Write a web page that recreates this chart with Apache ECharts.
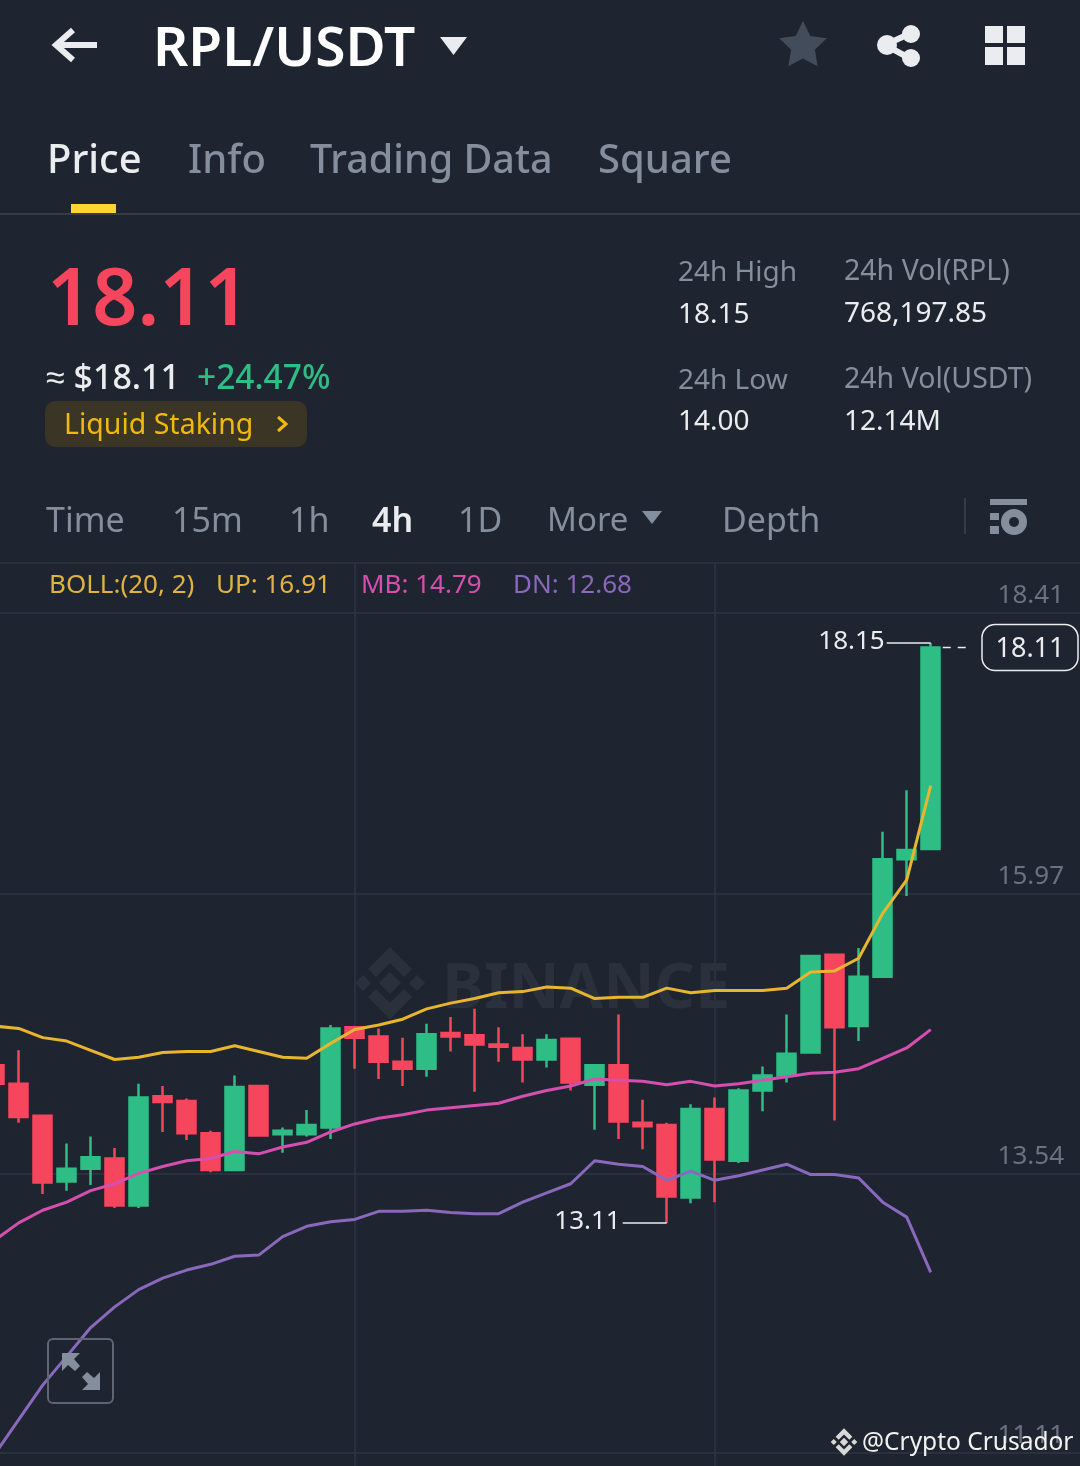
<!DOCTYPE html>
<html>
<head>
<meta charset="utf-8">
<title>RPL/USDT</title>
<style>
    html, body { margin: 0; padding: 0; background: #1f2530; }
    #main { width: 1080px; height: 1466px; }
</style>
<script src="https://cdn.jsdelivr.net/npm/echarts@6/dist/echarts.min.js"></script>
</head>
<body>
<div id="main"></div>
<script>
// candles (4h bars, left to right)
var opens = [14.48, 14.32, 14.04, 13.47, 13.58, 13.67, 13.26, 14.21, 14.17, 13.89,
    13.57, 14.30, 13.88, 13.88, 13.94, 14.81, 14.73, 14.51, 14.45, 14.76,
    14.74, 14.66, 14.63, 14.53, 14.71, 14.31, 14.48, 13.98, 13.96, 13.33,
    14.10, 13.65, 14.26, 14.39, 14.59, 15.44, 14.82, 15.25, 16.27, 16.36];
var closes = [14.32, 14.03, 13.46, 13.58, 13.68, 13.26, 14.20, 14.16, 13.89, 13.57,
    14.29, 13.87, 13.91, 13.96, 14.80, 14.72, 14.51, 14.45, 14.75, 14.73,
    14.66, 14.64, 14.53, 14.70, 14.33, 14.48, 13.99, 13.95, 13.34, 14.10,
    13.66, 14.26, 14.39, 14.58, 15.43, 14.81, 15.25, 16.27, 16.35, 18.11];
var lows = [14.30, 13.98, 13.36, 13.39, 13.44, 13.24, 13.24, 13.90, 13.83, 13.55,
    13.57, 13.86, 13.72, 13.86, 13.84, 14.45, 14.36, 14.30, 14.38, 14.60,
    14.25, 14.51, 14.33, 14.46, 14.26, 13.92, 13.84, 13.75, 13.11, 13.28,
    13.29, 13.63, 14.08, 14.33, 14.59, 14.00, 14.69, 15.24, 15.95, 16.36];
var highs = [14.50, 14.61, 14.05, 13.80, 13.86, 13.76, 14.32, 14.30, 14.19, 13.91,
    14.39, 14.31, 13.94, 14.09, 14.83, 14.82, 14.80, 14.72, 14.84, 14.90,
    14.97, 14.81, 14.75, 14.75, 14.72, 14.49, 14.92, 14.18, 13.98, 14.14,
    14.20, 14.28, 14.47, 14.92, 15.44, 15.45, 15.50, 16.51, 16.87, 18.15];

// bollinger bands
var bollUp = [14.82, 14.80, 14.72, 14.69, 14.61, 14.53, 14.55, 14.59, 14.60, 14.60,
    14.65, 14.60, 14.55, 14.54, 14.67, 14.79, 14.83, 14.88, 14.97, 15.02,
    15.06, 15.11, 15.12, 15.16, 15.15, 15.06, 15.07, 15.07, 15.15, 15.11,
    15.13, 15.13, 15.13, 15.15, 15.29, 15.30, 15.41, 15.80, 16.09, 16.91];
var bollMb = [12.96, 13.11, 13.22, 13.29, 13.39, 13.45, 13.54, 13.60, 13.65, 13.67,
    13.73, 13.71, 13.77, 13.81, 13.90, 13.97, 14.02, 14.05, 14.09, 14.11,
    14.13, 14.15, 14.21, 14.26, 14.30, 14.36, 14.35, 14.34, 14.31, 14.34,
    14.30, 14.32, 14.35, 14.38, 14.41, 14.42, 14.45, 14.54, 14.63, 14.79];
var bollDn = [11.10, 11.40, 11.70, 11.95, 12.20, 12.38, 12.53, 12.63, 12.70, 12.75,
    12.82, 12.83, 12.99, 13.08, 13.12, 13.14, 13.21, 13.21, 13.22, 13.20,
    13.19, 13.19, 13.29, 13.37, 13.45, 13.65, 13.62, 13.60, 13.48, 13.56,
    13.48, 13.52, 13.57, 13.62, 13.53, 13.53, 13.50, 13.29, 13.16, 12.68];

var priceTicks = [11.11, 13.54, 15.97, 18.41];
var timeLines = [15, 30];
var highLowSlots = [39, 28];
var highLowPrices = [18.15, 13.11];
var lastSlot = 39;
var lastPrice = 18.11;

var BG = '#1f2530', LINE = '#2f3541', WHITE = '#eaecef', GRAY = '#848e9c', DIM = '#6a7280';
var GREEN = '#2ebd85', RED = '#f6465d';
var FONT = '"Noto Sans", sans-serif';

var candles = [];
for (var i = 0; i < opens.length; i++) {
    candles.push([i, opens[i], closes[i], lows[i], highs[i]]);
}

// line series want [slot, value] because the x axis is numeric
function withSlots(values) {
    return values.map(function (v, n) { return [n, v]; });
}

var callouts = [];
for (var k = 0; k < highLowSlots.length; k++) {
    callouts.push([highLowSlots[k], highLowPrices[k]]);
}

function txt(x, y, text, size, color, weight, align) {
    return {
        type: 'text', z: 100, x: x, y: y,
        style: {
            text: text, fill: color, align: align || 'left', verticalAlign: 'middle',
            font: (weight || 'normal') + ' ' + size + 'px ' + FONT
        }
    };
}
function rect(x, y, w, h, color, r) {
    return { type: 'rect', z: 100, shape: { x: x, y: y, width: w, height: h, r: r || 0 }, style: { fill: color } };
}
function poly(points, color, z) {
    return { type: 'polygon', z: z || 100, shape: { points: points }, style: { fill: color } };
}
function stroke(points, color, width) {
    return { type: 'polyline', z: 100, shape: { points: points }, style: { stroke: color, lineWidth: width, fill: null } };
}
function dot(x, y, r, color) {
    return { type: 'circle', z: 100, shape: { cx: x, cy: y, r: r }, style: { fill: color } };
}
function star(cx, cy, r, color) {
    var pts = [];
    for (var n = 0; n < 10; n++) {
        var rr = n % 2 ? r * 0.5 : r;
        var a = -Math.PI / 2 + n * Math.PI / 5;
        pts.push([cx + rr * Math.cos(a), cy + rr * Math.sin(a)]);
    }
    return poly(pts, color);
}
// binance mark: one centre diamond, two side diamonds, two chevrons
function logo(cx, cy, s, color, z) {
    function d(x, y, r) {
        return poly([[cx + x, cy + y - r], [cx + x + r, cy + y], [cx + x, cy + y + r], [cx + x - r, cy + y]], color, z);
    }
    function chev(dir) {
        return poly([
            [cx, cy + dir * 36 * s], [cx + 22 * s, cy + dir * 14 * s], [cx + 14 * s, cy + dir * 6 * s],
            [cx, cy + dir * 20 * s], [cx - 14 * s, cy + dir * 6 * s], [cx - 22 * s, cy + dir * 14 * s]
        ], color, z);
    }
    return [d(0, 0, 11 * s), d(-27 * s, 0, 8 * s), d(27 * s, 0, 8 * s), chev(-1), chev(1)];
}

var chrome = [
    // header
    stroke([[97, 45], [56, 45]], WHITE, 6),
    stroke([[73, 30], [56, 45], [73, 60]], WHITE, 6),
    txt(153, 50, 'RPL/USDT', 55, '#ffffff', '600'),
    poly([[440, 37], [467, 37], [453.5, 55]], WHITE),
    star(803, 46, 25, '#434c5b'),
    stroke([[911, 33], [885, 45], [911, 59]], WHITE, 6),
    dot(911, 34, 9, WHITE), dot(887, 45, 10, WHITE), dot(911, 58, 9, WHITE),
    rect(985, 26, 18, 17, WHITE), rect(1007, 26, 18, 17, WHITE),
    rect(985, 47, 18, 18, WHITE), rect(1007, 47, 18, 18, WHITE),
    // tabs
    txt(47, 162, 'Price', 40, WHITE, '500'),
    txt(188, 162, 'Info', 40, GRAY, '500'),
    txt(310, 162, 'Trading Data', 39.5, GRAY, '500'),
    txt(598, 162, 'Square', 40, GRAY, '500'),
    rect(71, 204, 45, 9, '#fcd535'),
    rect(0, 213, 1080, 2, '#353b47'),
    // price block
    txt(47, 302, '18.11', 79, RED, '600'),
    txt(46, 379, '≈ $18.11', 34, WHITE, '500'),
    txt(197, 379, '+24.47%', 33.5, GREEN, '500'),
    rect(45, 401, 262, 46, '#3a3524', 10),
    txt(64, 426, 'Liquid Staking', 28.5, '#f0b90b'),
    stroke([[278, 417], [286, 424], [278, 431]], '#f0b90b', 3),
    txt(678, 273, '24h High', 28, GRAY),
    txt(678, 315, '18.15', 28, WHITE),
    txt(678, 381, '24h Low', 28, GRAY),
    txt(678, 422, '14.00', 28, WHITE),
    txt(844, 272, '24h Vol(RPL)', 28.5, GRAY),
    txt(844, 314, '768,197.85', 28, WHITE),
    txt(844, 380, '24h Vol(USDT)', 28.5, GRAY),
    txt(844, 422, '12.14M', 28, WHITE),
    // interval bar
    txt(46, 522, 'Time', 34, GRAY),
    txt(172, 522, '15m', 34, GRAY),
    txt(289, 522, '1h', 34, GRAY),
    txt(372, 522, '4h', 34, WHITE, '600'),
    txt(458, 522, '1D', 34, GRAY),
    txt(547, 522, 'More', 33, GRAY),
    poly([[642, 511], [662, 511], [652, 524]], GRAY),
    txt(722, 522, 'Depth', 34, GRAY),
    rect(964, 498, 2, 36, '#353b47'),
    rect(990, 499, 37, 6, GRAY),
    rect(990, 513, 9, 7, GRAY), rect(990, 526, 9, 8, GRAY),
    dot(1014, 522, 13, GRAY), dot(1014, 522, 5, BG),
    rect(0, 562, 1080, 2, '#2b313c'),
    // indicator legend
    txt(49, 586, 'BOLL:(20, 2)', 26, '#e0b341'),
    txt(216, 586, 'UP: 16.91', 26, '#e0b341'),
    txt(361, 586, 'MB: 14.79', 26, '#d64fb0'),
    txt(513, 586, 'DN: 12.68', 26, '#8a68bd'),
    // expand button
    { type: 'rect', z: 100, shape: { x: 48, y: 1339, width: 65, height: 64, r: 5 }, style: { fill: null, stroke: '#5e6673', lineWidth: 2 } },
    poly([[62, 1353], [80, 1353], [74, 1359], [80, 1366], [75, 1371], [68, 1365], [62, 1371]], GRAY),
    poly([[100, 1390], [82, 1390], [88, 1384], [82, 1377], [87, 1372], [94, 1378], [100, 1372]], GRAY),
    // author tag
    txt(862, 1443, '@Crypto Crusador', 24.5, '#f2f2f2')
].concat(logo(844, 1442, 0.38, '#d8d8d8')).concat(logo(390, 983, 1, '#2b313c', 1));

// the faint wordmark sits under the candles
var mark = txt(442, 990, 'BINANCE', 63, '#2b313c', '700');
mark.z = 1;
chrome.push(mark);

// 18.15 / 13.11 leaders plus the last price pill, placed from the data
function renderCallout(params, api) {
    var p = api.coord([api.value(0), api.value(1)]);
    var x = p[0], y = p[1];
    return {
        type: 'group',
        children: [
            { type: 'line', shape: { x1: x - 44, y1: y, x2: x, y2: y }, style: { stroke: WHITE, lineWidth: 1.5 } },
            { type: 'text', x: x - 46, y: y - 1, style: { text: api.value(1).toFixed(2), fill: WHITE, align: 'right', verticalAlign: 'middle', font: '26px ' + FONT } }
        ]
    };
}

function renderLast(params, api) {
    var p = api.coord([api.value(0), api.value(1)]);
    var y = p[1];
    return {
        type: 'group',
        children: [
            { type: 'line', shape: { x1: p[0] + 12, y1: y, x2: 972, y2: y }, style: { stroke: WHITE, lineWidth: 1.5, lineDash: [8, 7] } },
            { type: 'rect', shape: { x: 982, y: y - 23, width: 96, height: 46, r: 13 }, style: { fill: BG, stroke: WHITE, lineWidth: 1.5 } },
            { type: 'text', x: 1030, y: y + 2, style: { text: api.value(1).toFixed(2), fill: WHITE, align: 'center', verticalAlign: 'middle', font: '27px ' + FONT } }
        ]
    };
}

function bandLine(name, data, color) {
    return {
        name: name, type: 'line', data: withSlots(data), symbol: 'none', silent: true, z: 5,
        lineStyle: { color: color, width: 3 }, clip: false
    };
}

var myChart = echarts.init(document.getElementById('main'), null, { renderer: 'canvas' });

myChart.setOption({
    backgroundColor: BG,
    animation: false,
    graphic: { elements: chrome },
    grid: { left: 0, right: 0, top: 563, bottom: 0 },
    xAxis: {
        type: 'value',
        min: 0.2208,
        max: 45.22,
        axisLine: { show: false },
        axisLabel: { show: false },
        splitLine: { show: false },
        // long inward ticks are the two vertical grid lines
        axisTick: {
            show: true, inside: true, length: 903, customValues: timeLines,
            lineStyle: { color: LINE, width: 1.5 }
        }
    },
    yAxis: {
        type: 'value',
        position: 'right',
        min: 10.997,
        max: 18.845,
        axisLine: { show: false },
        splitLine: { show: false },
        axisTick: {
            show: true, inside: true, length: 1080, customValues: priceTicks,
            lineStyle: { color: LINE, width: 1.5 }
        },
        axisLabel: {
            inside: true,
            margin: 16,
            customValues: priceTicks,
            formatter: function (v) { return v.toFixed(2); },
            color: DIM,
            fontFamily: FONT,
            fontSize: 26,
            verticalAlign: 'bottom',
            padding: [0, 0, 4, 0]
        }
    },
    series: [
        {
            name: 'candles',
            type: 'candlestick',
            data: candles,
            barWidth: 18.5,
            z: 3,
            silent: true,
            clip: false,
            itemStyle: { color: GREEN, color0: RED, borderColor: GREEN, borderColor0: RED, borderWidth: 2.5 }
        },
        bandLine('UP', bollUp, '#e8b52e'),
        bandLine('MB', bollMb, '#d64fb0'),
        bandLine('DN', bollDn, '#8a68bd'),
        {
            name: 'highLow',
            type: 'custom',
            data: callouts,
            renderItem: renderCallout,
            encode: { x: 0, y: 1 },
            clip: false,
            silent: true,
            z: 6
        },
        {
            name: 'last',
            type: 'custom',
            data: [[lastSlot, lastPrice]],
            renderItem: renderLast,
            encode: { x: 0, y: 1 },
            clip: false,
            silent: true,
            z: 6
        }
    ]
});
</script>
</body>
</html>
